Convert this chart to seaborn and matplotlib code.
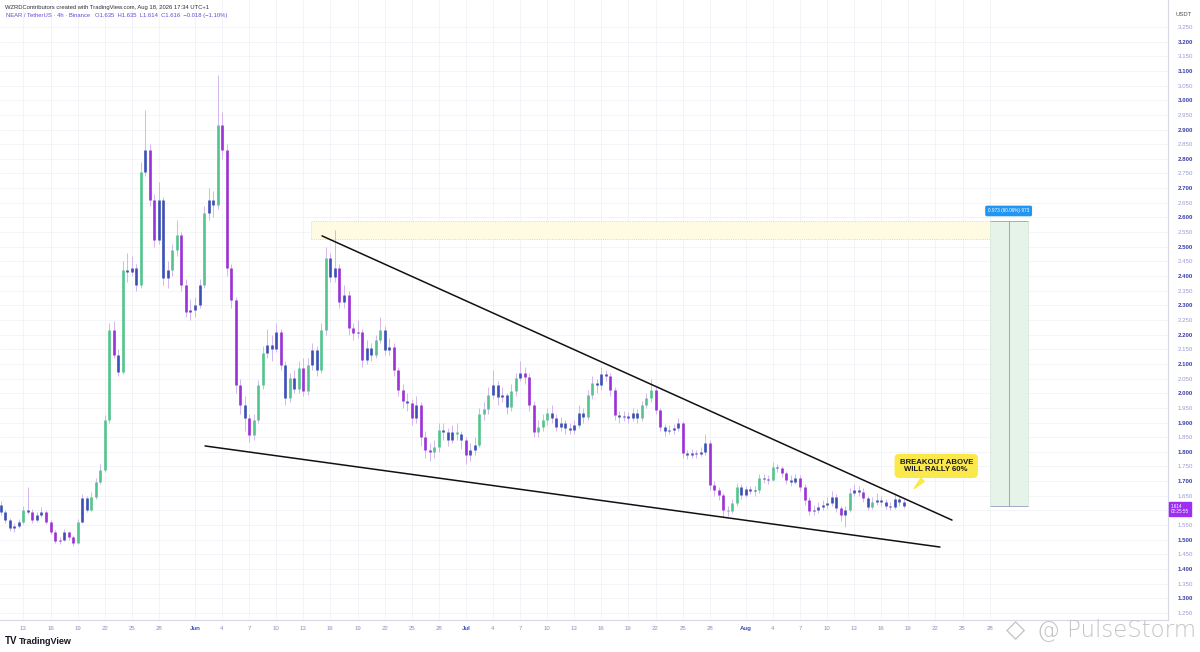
import numpy as np
import pandas as pd
import matplotlib
matplotlib.use("Agg")
import matplotlib.pyplot as plt
import matplotlib.dates as mdates
from matplotlib.patches import Rectangle
import seaborn as sns

# ---------------------------------------------
# NEAR / USDT, read off the 4h chart (sampled every 12h)
# ---------------------------------------------
first_time = "2026-05-10 12:00"
first_open = 1.619

closes = [
    1.595, 1.567, 1.540, 1.547, 1.561, 1.602, 1.595, 1.567, 1.584, 1.595,
    1.561, 1.526, 1.496, 1.499, 1.526, 1.509, 1.489, 1.561, 1.643, 1.602,
    1.646, 1.697, 1.738, 1.909, 2.216, 2.131, 2.073, 2.421, 2.414, 2.428,
    2.369, 2.755, 2.830, 2.660, 2.523, 2.660, 2.393, 2.421, 2.489, 2.540,
    2.369, 2.277, 2.284, 2.301, 2.369, 2.615, 2.660, 2.643, 2.916, 2.830,
    2.428, 2.318, 2.028, 1.960, 1.916, 1.858, 1.909, 2.028, 2.137, 2.165,
    2.150, 2.209, 2.096, 1.984, 2.052, 2.015, 2.086, 2.008, 2.096, 2.148,
    2.079, 2.216, 2.462, 2.397, 2.428, 2.311, 2.335, 2.223, 2.206, 2.209,
    2.113, 2.154, 2.131, 2.182, 2.216, 2.148, 2.158, 2.079, 2.011, 1.974,
    1.967, 1.916, 1.960, 1.851, 1.806, 1.800, 1.817, 1.875, 1.868, 1.840,
    1.868, 1.860, 1.840, 1.789, 1.806, 1.823, 1.929, 1.946, 1.994, 2.028,
    1.987, 1.994, 1.953, 2.008, 2.052, 2.069, 2.055, 1.960, 1.868, 1.885,
    1.909, 1.933, 1.916, 1.885, 1.898, 1.881, 1.876, 1.892, 1.933, 1.919,
    1.994, 2.035, 2.028, 2.066, 2.059, 2.011, 1.926, 1.919, 1.922, 1.916,
    1.933, 1.916, 1.960, 1.984, 2.011, 1.943, 1.885, 1.871, 1.875, 1.881,
    1.898, 1.796, 1.789, 1.796, 1.793, 1.799, 1.830, 1.687, 1.670, 1.653,
    1.602, 1.598, 1.625, 1.680, 1.653, 1.673, 1.667, 1.670, 1.711, 1.707,
    1.704, 1.748, 1.744, 1.728, 1.704, 1.697, 1.711, 1.680, 1.636, 1.598,
    1.602, 1.612, 1.619, 1.625, 1.646, 1.608, 1.584, 1.602, 1.660, 1.670,
    1.664, 1.643, 1.612, 1.629, 1.636, 1.629, 1.615, 1.612, 1.639, 1.629,
    1.614,
]

highs = [
    1.632, 1.603, 1.575, 1.558, 1.572, 1.614, 1.680, 1.604, 1.596, 1.612,
    1.601, 1.568, 1.532, 1.508, 1.537, 1.531, 1.515, 1.570, 1.655, 1.650,
    1.664, 1.712, 1.760, 1.925, 2.240, 2.245, 2.150, 2.450, 2.480, 2.470,
    2.440, 2.790, 2.967, 2.850, 2.680, 2.720, 2.670, 2.450, 2.510, 2.590,
    2.550, 2.390, 2.320, 2.330, 2.390, 2.640, 2.700, 2.690, 3.086, 2.960,
    2.850, 2.440, 2.330, 2.050, 1.990, 1.930, 1.930, 2.045, 2.160, 2.220,
    2.200, 2.240, 2.220, 2.110, 2.070, 2.080, 2.110, 2.120, 2.120, 2.170,
    2.160, 2.240, 2.500, 2.480, 2.557, 2.440, 2.370, 2.350, 2.240, 2.250,
    2.220, 2.180, 2.170, 2.200, 2.260, 2.230, 2.190, 2.170, 2.090, 2.030,
    2.000, 1.980, 1.990, 1.970, 1.870, 1.830, 1.840, 1.900, 1.900, 1.880,
    1.890, 1.900, 1.870, 1.850, 1.830, 1.850, 1.950, 1.970, 2.020, 2.080,
    2.040, 2.020, 2.000, 2.030, 2.070, 2.110, 2.090, 2.070, 1.975, 1.910,
    1.930, 1.950, 1.960, 1.930, 1.920, 1.910, 1.900, 1.910, 1.960, 1.950,
    2.010, 2.060, 2.050, 2.090, 2.080, 2.070, 2.020, 1.940, 1.940, 1.935,
    1.950, 1.945, 1.975, 2.000, 2.050, 2.020, 1.950, 1.895, 1.890, 1.895,
    1.915, 1.905, 1.805, 1.810, 1.805, 1.815, 1.860, 1.840, 1.700, 1.680,
    1.660, 1.615, 1.640, 1.695, 1.690, 1.685, 1.685, 1.685, 1.725, 1.725,
    1.720, 1.765, 1.760, 1.750, 1.735, 1.720, 1.725, 1.720, 1.690, 1.645,
    1.620, 1.630, 1.635, 1.645, 1.665, 1.655, 1.615, 1.615, 1.675, 1.690,
    1.685, 1.675, 1.650, 1.645, 1.660, 1.650, 1.640, 1.630, 1.660, 1.650,
    1.640,
]

lows = [
    1.585, 1.556, 1.531, 1.528, 1.540, 1.555, 1.588, 1.558, 1.560, 1.577,
    1.552, 1.518, 1.488, 1.486, 1.494, 1.500, 1.478, 1.485, 1.556, 1.594,
    1.597, 1.640, 1.690, 1.730, 1.900, 2.120, 2.060, 2.065, 2.380, 2.400,
    2.350, 2.360, 2.740, 2.640, 2.500, 2.510, 2.370, 2.360, 2.400, 2.470,
    2.350, 2.260, 2.250, 2.260, 2.290, 2.360, 2.590, 2.600, 2.630, 2.800,
    2.400, 2.290, 2.000, 1.930, 1.870, 1.835, 1.840, 1.900, 2.015, 2.120,
    2.110, 2.140, 2.080, 1.960, 1.970, 2.000, 2.000, 1.990, 1.995, 2.080,
    2.060, 2.070, 2.200, 2.380, 2.380, 2.290, 2.290, 2.200, 2.180, 2.190,
    2.090, 2.100, 2.110, 2.120, 2.170, 2.130, 2.130, 2.060, 1.990, 1.950,
    1.940, 1.890, 1.900, 1.820, 1.780, 1.770, 1.780, 1.800, 1.840, 1.820,
    1.830, 1.840, 1.810, 1.760, 1.770, 1.790, 1.815, 1.910, 1.930, 1.980,
    1.960, 1.970, 1.930, 1.940, 1.990, 2.040, 2.030, 1.940, 1.850, 1.850,
    1.870, 1.890, 1.900, 1.870, 1.870, 1.860, 1.860, 1.860, 1.880, 1.900,
    1.910, 1.980, 2.000, 2.010, 2.040, 1.990, 1.910, 1.900, 1.905, 1.900,
    1.905, 1.900, 1.905, 1.950, 1.970, 1.930, 1.870, 1.855, 1.860, 1.860,
    1.870, 1.780, 1.775, 1.780, 1.780, 1.785, 1.790, 1.670, 1.650, 1.635,
    1.577, 1.580, 1.590, 1.615, 1.640, 1.645, 1.655, 1.650, 1.660, 1.695,
    1.690, 1.700, 1.730, 1.715, 1.690, 1.685, 1.690, 1.665, 1.620, 1.585,
    1.585, 1.590, 1.600, 1.605, 1.615, 1.595, 1.565, 1.543, 1.595, 1.650,
    1.650, 1.630, 1.600, 1.605, 1.620, 1.615, 1.605, 1.600, 1.605, 1.615,
    1.608,
]

# bar colouring seen on the chart: g = green, p = purple, b = blue
trend = (
    "bbbbbgbpbb" "ppppbppgbb" "gggggpbgbb" "bgbppbbbgg" "ppbbbgbbgp"
    "ppppbpgggb" "bbpbgbgpgb" "bggbbpbppb" "pbbggbbppp" "bpbpppggbb"
    "bgbpbbgggb" "bbbggbpppg" "ggbbbbbbbb" "ggbbbppbbb" "bbgggppbbb"
    "bpbbbbbppp" "pgggbbbbgb" "bgbppbbppp" "bbbbbbpbgb" "bpbgbbbbbb"
    "b"
)

# drawings on the chart
upper_line_t = ["2026-06-15 01:30", "2026-08-23 20:00"]
upper_line_p = [2.537, 1.567]
lower_line_t = ["2026-06-02 02:40", "2026-08-22 12:00"]
lower_line_p = [1.820, 1.475]
zone_t = ["2026-06-13 20:00", "2026-09-01 05:00"]
zone_p = [2.526, 2.588]
target_t = ["2026-08-28 00:00", "2026-09-01 05:00"]
target_p = [1.614, 2.587]
last_price = 1.614

month_ticks = {5: [13, 16, 19, 22, 25, 28],
               6: [1, 4, 7, 10, 13, 16, 19, 22, 25, 28],
               7: [1, 4, 7, 10, 13, 16, 19, 22, 25, 28],
               8: [1, 4, 7, 10, 13, 16, 19, 22, 25, 28]}
month_names = {6: "Jun", 7: "Jul", 8: "Aug"}

# ---------------------------------------------
# frame
# ---------------------------------------------
df = pd.DataFrame({"close": closes, "high": highs, "low": lows, "trend": list(trend)})
df["open"] = [first_open] + closes[:-1]
df["time"] = pd.date_range(first_time, periods=len(df), freq="12h")
df["x"] = mdates.date2num(df["time"])

sns.set_theme(style="white")
plt.rcParams["font.family"] = ["Liberation Sans", "DejaVu Sans"]

W, H = 1200, 652
fig = plt.figure(figsize=(W / 100, H / 100), dpi=100)
fig.patch.set_facecolor("white")
ax = fig.add_axes([0, 32 / H, 1168 / W, 620 / H])
ax.set_facecolor("white")

jun1 = mdates.date2num(pd.Timestamp("2026-06-01"))
px_per_day = 9.03
ax.set_xlim(jun1 - 195 / px_per_day, jun1 + (1168 - 195) / px_per_day)
ax.set_ylim(1.226, 3.342)

# grid
yt = np.round(np.arange(1.25, 3.2501, 0.05), 3)
tick_dates, tick_labels = [], []
for m, days in month_ticks.items():
    for d in days:
        tick_dates.append(mdates.date2num(pd.Timestamp(2026, m, d)))
        tick_labels.append(month_names[m] if d == 1 else str(d))
ax.set_xticks(tick_dates)
ax.set_xticklabels(tick_labels)
ax.set_yticks(yt)
ax.set_yticklabels([f"{v:.3f}" for v in yt])
ax.grid(True, color="#f1f2f6", lw=0.6)
ax.set_axisbelow(True)

# yellow resistance zone
z0, z1 = mdates.date2num(pd.Timestamp(zone_t[0])), mdates.date2num(pd.Timestamp(zone_t[1]))
ax.add_patch(Rectangle((z0, zone_p[0]), z1 - z0, zone_p[1] - zone_p[0],
                       facecolor="#fffbe3", edgecolor="#e8cf7a", lw=0.6, ls=":", zorder=1))

# green target measurement
g0, g1 = mdates.date2num(pd.Timestamp(target_t[0])), mdates.date2num(pd.Timestamp(target_t[1]))
ax.add_patch(Rectangle((g0, target_p[0]), g1 - g0, target_p[1] - target_p[0],
                       facecolor="#e5f3e8", edgecolor="#d3e6d7", lw=0.5, zorder=1))
ax.hlines(target_p, g0, g1, color="#9aa3c4", lw=0.6, zorder=2)
ax.vlines((g0 + g1) / 2, target_p[0], target_p[1], color="#8596e2", lw=0.6, zorder=2)
ax.text((g0 + g1) / 2, target_p[1] + 0.035, "0.973 (60.06%) 973", ha="center", va="center",
        fontsize=3.4, color="white", zorder=5,
        bbox=dict(boxstyle="round,pad=0.45,rounding_size=0.2", fc="#2196f3", ec="#2196f3"))

# candles
palette = {"g": "#52c48c", "p": "#9b2fd8", "b": "#3c4fb6"}
ax.vlines(df["x"], df["low"], df["high"], color="#d3b6ee", lw=0.7, zorder=3)
body_lo = np.minimum(df["open"], df["close"])
body_hi = np.maximum(np.maximum(df["open"], df["close"]), body_lo + 0.004)
ax.vlines(df["x"], body_lo, body_hi, colors=df["trend"].map(palette), lw=1.9, zorder=4)

# wedge lines
sns.lineplot(x=mdates.date2num(pd.to_datetime(upper_line_t)), y=upper_line_p,
             color="#111111", lw=1.1, ax=ax, zorder=5)
sns.lineplot(x=mdates.date2num(pd.to_datetime(lower_line_t)), y=lower_line_p,
             color="#111111", lw=1.1, ax=ax, zorder=5)

# callout
ax.annotate("BREAKOUT ABOVE\nWILL RALLY 60%",
            xy=(mdates.date2num(pd.Timestamp("2026-08-19 10:00")), 1.668),
            xytext=(mdates.date2num(pd.Timestamp("2026-08-22 02:00")), 1.752),
            ha="center", va="center", fontsize=5.6, fontweight="bold", color="#1b1b1b",
            linespacing=1.05, zorder=6,
            bbox=dict(boxstyle="round,pad=0.55,rounding_size=0.5", fc="#fbe84a", ec="#fbe84a"),
            arrowprops=dict(arrowstyle="wedge,tail_width=0.6,shrink_factor=0.5",
                            fc="#fbe84a", ec="#fbe84a"))

# axes cosmetics
for s in ["top", "left"]:
    ax.spines[s].set_visible(False)
for s in ["right", "bottom"]:
    ax.spines[s].set_color("#d6d9e4")
    ax.spines[s].set_linewidth(0.8)
ax.yaxis.tick_right()
ax.tick_params(axis="y", length=0, pad=7, labelsize=4.4)
ax.tick_params(axis="x", length=0, pad=4, labelsize=4.4)
for v, lbl in zip(yt, ax.get_yticklabels()):
    major = int(round(v * 100)) % 10 == 0
    lbl.set_color("#3b3fa6" if major else "#9a9ad8")
    lbl.set_fontweight("bold" if major else "normal")
    if abs(v - last_price) < 0.03:
        lbl.set_visible(False)   # covered by the price tag
for lbl in ax.get_xticklabels():
    if lbl.get_text() in month_names.values():
        lbl.set_color("#3f51b5")
        lbl.set_fontweight("bold")
    else:
        lbl.set_color("#8a8fbf")

# last price tag on the scale
fig.text(1171 / W, 1 - 509 / H, f"{last_price:.3f}\n02:25:55", ha="left", va="center",
         fontsize=3.3, color="white", linespacing=1.1,
         bbox=dict(boxstyle="square,pad=0.35", fc="#9c2ff2", ec="#9c2ff2"))

# header / footer texts
fig.text(5 / W, 1 - 7 / H, "WZRDContributors created with TradingView.com, Aug 18, 2026 17:34 UTC+1",
         ha="left", va="center", fontsize=4.2, color="#2a2e39")
fig.text(6 / W, 1 - 16 / H,
         "NEAR / TetherUS · 4h · Binance   O1.635  H1.635  L1.614  C1.616  \u22120.018 (\u22121.10%)",
         ha="left", va="center", fontsize=4.2, color="#6b45d6")
fig.text(1176 / W, 1 - 15 / H, "USDT", ha="left", va="center", fontsize=4.2, color="#4a4e5a")
fig.text(5 / W, 1 - 641 / H, "TV", ha="left", va="center", fontsize=7, fontweight="heavy",
         color="#131722")
fig.text(19 / W, 1 - 641 / H, "TradingView", ha="left", va="center", fontsize=6.5,
         fontweight="bold", color="#131722")

# watermark
fig.text(1016 / W, 1 - 630 / H, "\u25c7", ha="center", va="center", fontsize=18,
         color="#c4c4c4", family="DejaVu Sans")
fig.text(1196 / W, 1 - 630 / H, "@ PulseStorm", ha="right", va="center", fontsize=16.5,
         color="#c4c4c4", family=["DejaVu Sans"], fontweight="light")

fig.savefig("out.png", dpi=100, facecolor="white")
